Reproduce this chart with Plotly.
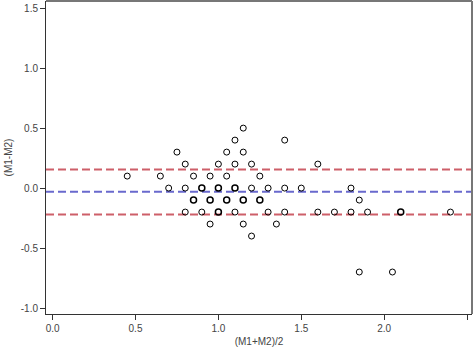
import plotly.graph_objects as go
from collections import Counter

# Bland-Altman data: mean of methods (x) and difference (y); repeated pairs are overlapping points
mean_vals = [0.45, 0.65, 0.70, 0.75, 0.80, 0.80, 0.80, 0.85, 0.85, 0.85, 0.90, 0.90, 0.90,
             1.15, 1.10, 1.40, 1.05, 1.15, 1.00, 1.10, 1.20, 1.60,
             0.95, 1.05, 1.25,
             1.00, 1.00, 1.10, 1.10, 1.20, 1.30, 1.40, 1.50,
             0.95, 0.95, 1.05, 1.05, 1.15, 1.15, 1.25, 1.25,
             1.00, 1.00, 1.10, 1.30, 1.40, 1.60, 1.70,
             0.95, 1.15, 1.35, 1.20,
             1.80, 1.85, 1.80, 1.90, 2.10, 2.10, 2.40,
             1.85, 2.05]
diff_vals = [0.10, 0.10, 0.00, 0.30, 0.20, 0.00, -0.20, 0.10, -0.10, -0.10, 0.00, 0.00, -0.20,
             0.50, 0.40, 0.40, 0.30, 0.30, 0.20, 0.20, 0.20, 0.20,
             0.10, 0.10, 0.10,
             0.00, 0.00, 0.00, 0.00, 0.00, 0.00, 0.00, 0.00,
             -0.10, -0.10, -0.10, -0.10, -0.10, -0.10, -0.10, -0.10,
             -0.20, -0.20, -0.20, -0.20, -0.20, -0.20, -0.20,
             -0.30, -0.30, -0.30, -0.40,
             0.00, -0.10, -0.20, -0.20, -0.20, -0.20, -0.20,
             -0.70, -0.70]

mean_diff = -0.03
upper_loa = 0.155
lower_loa = -0.22

x_ticks = [0.0, 0.5, 1.0, 1.5, 2.0, 2.5]
y_ticks = [-1.0, -0.5, 0.0, 0.5, 1.0, 1.5]

counts = Counter(zip(mean_vals, diff_vals))
ux = [p[0] for p in counts]
uy = [p[1] for p in counts]
lw = [1.0 if counts[p] == 1 else 1.5 for p in counts]

x_range = [-0.04, 2.53]
y_range = [-1.05, 1.56]

fig = go.Figure()
for val, col in [(upper_loa, "rgb(205,95,105)"), (lower_loa, "rgb(205,95,105)"),
                 (mean_diff, "rgb(105,105,205)")]:
    fig.add_trace(go.Scatter(x=x_range, y=[val, val], mode="lines",
                             line=dict(color=col, width=2, dash="8px,4px"),
                             hoverinfo="skip", showlegend=False))

fig.add_trace(go.Scatter(x=ux, y=uy, mode="markers",
                         marker=dict(symbol="circle-open", size=6, color="black",
                                     line=dict(width=lw, color="black")),
                         showlegend=False))

fig.update_layout(
    width=474, height=351,
    margin=dict(l=46, r=2, t=1, b=37),
    paper_bgcolor="white", plot_bgcolor="white",
    font=dict(family="Liberation Sans, Arial, sans-serif", size=10, color="#444"),
    xaxis=dict(range=x_range, tickvals=x_ticks, ticktext=[f"{v:.1f}" for v in x_ticks],
               showgrid=False, zeroline=False, showline=True, linecolor="#333", linewidth=1,
               ticks="outside", ticklen=5, tickcolor="#333",
               title=dict(text="(M1+M2)/2", standoff=4, font=dict(size=10, color="#444"))),
    yaxis=dict(range=y_range, tickvals=y_ticks, ticktext=[f"{v:.1f}" for v in y_ticks],
               showgrid=False, zeroline=False, showline=True, linecolor="#333", linewidth=1,
               ticks="outside", ticklen=5, tickcolor="#333",
               title=dict(text="(M1-M2)", standoff=6, font=dict(size=10, color="#444"))),
    shapes=[
        dict(type="line", xref="paper", yref="paper", x0=0, x1=1, y0=1, y1=1,
             line=dict(color="#777", width=2)),
        dict(type="line", xref="paper", yref="paper", x0=1, x1=1, y0=0, y1=1,
             line=dict(color="#777", width=2)),
    ],
)

fig.write_html("out.html")
